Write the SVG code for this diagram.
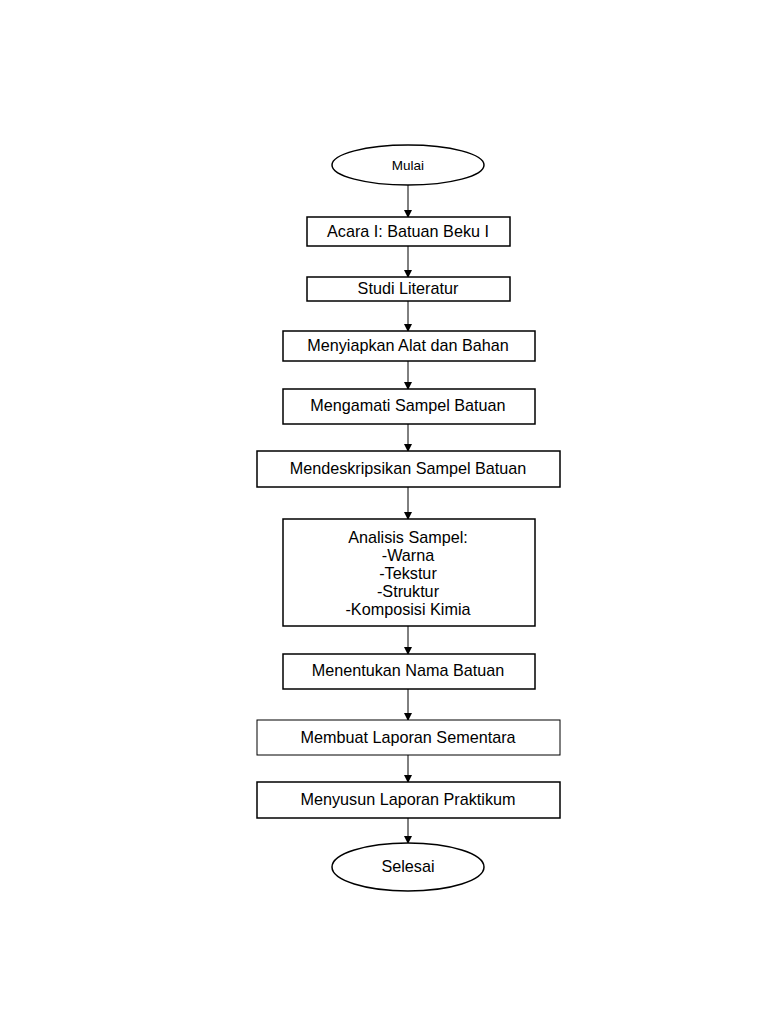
<svg xmlns="http://www.w3.org/2000/svg" width="768" height="1024" viewBox="0 0 768 1024">
<style>
.n{fill:#fff;stroke:#000;stroke-width:1.5}
.t{font-family:"Liberation Sans",Arial,sans-serif;font-size:16.2px;text-anchor:middle;fill:#000}
.c{stroke:#000;stroke-width:1;fill:none;marker-end:url(#a)}
</style>
<defs><marker id="a" markerWidth="8" markerHeight="8" refX="7" refY="4" orient="auto" markerUnits="userSpaceOnUse"><path d="M0,0L8,4L0,8z" fill="#000"/></marker></defs>
<rect width="768" height="1024" fill="#fff"/>
<g id="connectors">
<line class="c" x1="408" y1="185" x2="408" y2="217"/>
<line class="c" x1="408" y1="246" x2="408" y2="277"/>
<line class="c" x1="408" y1="301" x2="408" y2="331"/>
<line class="c" x1="408" y1="361" x2="408" y2="389"/>
<line class="c" x1="408" y1="424" x2="408" y2="451"/>
<line class="c" x1="408" y1="487" x2="408" y2="519"/>
<line class="c" x1="408" y1="626" x2="408" y2="654"/>
<line class="c" x1="408" y1="689" x2="408" y2="720"/>
<line class="c" x1="408" y1="755" x2="408" y2="782"/>
<line class="c" x1="408" y1="818" x2="408" y2="843"/>
</g>
<g id="mulai"><ellipse class="n" cx="408" cy="165" rx="76" ry="20"/><text class="t" x="408" y="170" style="font-size:13.5px">Mulai</text></g>
<g id="n1"><rect class="n" x="307" y="217" width="203" height="29"/><text class="t" x="408" y="237">Acara I: Batuan Beku I</text></g>
<g id="n2"><rect class="n" x="307" y="277" width="203" height="24"/><text class="t" x="408" y="294">Studi Literatur</text></g>
<g id="n3"><rect class="n" x="283" y="331" width="252" height="30"/><text class="t" x="408" y="351">Menyiapkan Alat dan Bahan</text></g>
<g id="n4"><rect class="n" x="283" y="389" width="252" height="35"/><text class="t" x="408" y="411">Mengamati Sampel Batuan</text></g>
<g id="n5"><rect class="n" x="257" y="451" width="303" height="36"/><text class="t" x="408" y="474">Mendeskripsikan Sampel Batuan</text></g>
<g id="n6"><rect class="n" x="283" y="519" width="252" height="107"/><text class="t" x="408" y="543">Analisis Sampel:<tspan x="408" dy="18">-Warna</tspan><tspan x="408" dy="18">-Tekstur</tspan><tspan x="408" dy="18">-Struktur</tspan><tspan x="408" dy="18">-Komposisi Kimia</tspan></text></g>
<g id="n7"><rect class="n" x="283" y="654" width="252" height="35"/><text class="t" x="408" y="676">Menentukan Nama Batuan</text></g>
<g id="n8"><rect class="n" x="257" y="720" width="303" height="35" style="stroke-width:1"/><text class="t" x="408" y="743">Membuat Laporan Sementara</text></g>
<g id="n9"><rect class="n" x="257" y="782" width="303" height="36"/><text class="t" x="408" y="805">Menyusun Laporan Praktikum</text></g>
<g id="selesai"><ellipse class="n" cx="408" cy="867" rx="76" ry="24"/><text class="t" x="408" y="872">Selesai</text></g>
</svg>
